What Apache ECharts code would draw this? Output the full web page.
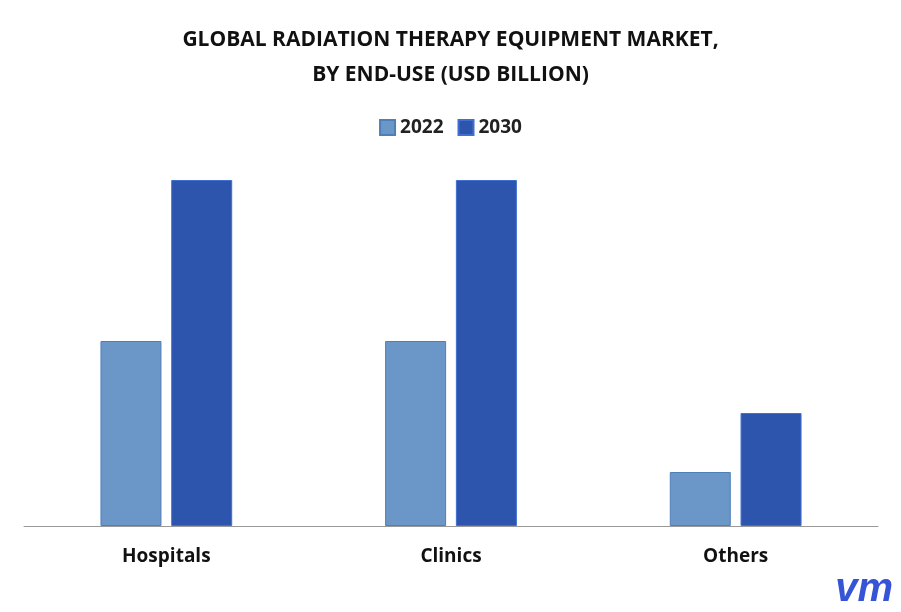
<!DOCTYPE html>
<html>
<head>
<meta charset="utf-8">
<script src="https://cdn.jsdelivr.net/npm/echarts@6/dist/echarts.min.js"></script>
<style>html,body{margin:0;padding:0;background:#fff}#chart{width:901px;height:612px}</style>
</head>
<body>
<div id="chart"></div>
<script>
// data (relative bar heights, no value axis shown)
var categories = ['Hospitals', 'Clinics', 'Others'];
var values2022 = [1.85, 1.85, 0.54];
var values2030 = [3.46, 3.46, 1.13];

var myChart = echarts.init(document.getElementById('chart'));
var option = {
	textStyle: {fontFamily: 'Open Sans'},
	title: {
		text: 'GLOBAL RADIATION THERAPY EQUIPMENT MARKET,\nBY END-USE (USD BILLION)',
		left: 'center',
		top: 18,
		textStyle: {fontSize: 21, fontWeight: 'bold', color: '#111', lineHeight: 35}
	},
	legend: {
		top: 113,
		left: 'center',
		icon: 'rect',
		itemWidth: 15,
		itemHeight: 15,
		itemGap: 14,
		textStyle: {fontSize: 19, fontWeight: 'bold', color: '#222'},
		data: ['2022', '2030']
	},
	grid: {left: 24, right: 23, top: 180, bottom: 86},
	xAxis: {
		type: 'category',
		data: categories,
		axisLine: {lineStyle: {color: '#999'}},
		axisTick: {show: false},
		axisLabel: {fontSize: 19, fontWeight: 'bold', color: '#111', margin: 21}
	},
	yAxis: {type: 'value', min: 0, max: 3.46, show: false, splitLine: {show: false}},
	series: [
		{
			name: '2022', type: 'bar', data: values2022, barWidth: 61, barGap: '16%',
			itemStyle: {color: '#6a96c8', borderColor: '#4f7fb8', borderWidth: 1}
		},
		{
			name: '2030', type: 'bar', data: values2030, barWidth: 61,
			itemStyle: {color: '#2e55ad', borderColor: '#3f6fd0', borderWidth: 1}
		}
	],
	graphic: [{
		type: 'text', right: 8, bottom: 2,
		style: {text: 'vm', fontSize: 40, fontStyle: 'italic', fontWeight: 'bold', fill: '#3654d6'}
	}]
};
myChart.setOption(option);
</script>
</body>
</html>
